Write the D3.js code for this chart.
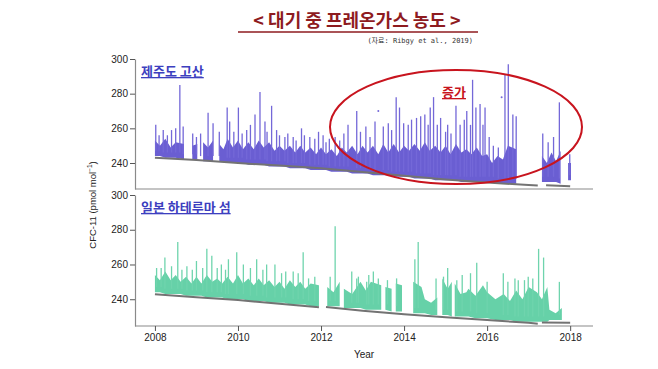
<!DOCTYPE html>
<html>
<head>
<meta charset="utf-8">
<script src="https://cdn.jsdelivr.net/npm/d3@7"></script>
<style>
  html, body { margin: 0; padding: 0; background: #fff; }
  svg { display: block; }
</style>
</head>
<body>
<div id="chart"></div>
<script>
// ---- data ----
const yearTicks = [2008, 2010, 2012, 2014, 2016, 2018];
const valueTicks = [240, 260, 280, 300];

// Gosan (Jeju) dense band: [year, low, high], null = gap
const gosanBand = [
  [2008.00, 244, 253], [2008.12, 244, 250], [2008.25, 243, 254], [2008.38, 243, 249], [2008.50, 243, 252],
  [2008.70, 242, 251], [2008.72, null, null], [2008.90, 242, 250], [2009.02, 242, 251], [2009.04, null, null],
  [2009.16, 241, 252], [2009.28, 241, 249], [2009.40, 241, 253], [2009.45, null, null], [2009.55, 241, 251],
  [2009.65, 241, 248], [2009.75, 240, 254], [2009.88, 240, 249], [2010.00, 240, 253], [2010.12, 240, 248],
  [2010.25, 239, 252], [2010.38, 239, 248], [2010.50, 239, 253], [2010.62, 239, 249], [2010.75, 238, 252],
  [2010.88, 238, 247], [2011.00, 238, 250], [2011.12, 238, 247], [2011.25, 237, 250], [2011.38, 237, 246],
  [2011.50, 237, 250], [2011.62, 237, 246], [2011.75, 236, 249], [2011.88, 236, 245], [2012.00, 236, 249],
  [2012.12, 236, 245], [2012.25, 235, 248], [2012.38, 235, 244], [2012.50, 235, 249], [2012.62, 235, 246],
  [2012.75, 234, 250], [2012.88, 234, 245], [2013.00, 234, 250], [2013.12, 234, 246], [2013.25, 233, 250],
  [2013.38, 233, 245], [2013.50, 233, 251], [2013.62, 233, 246], [2013.75, 232, 251], [2013.88, 232, 246],
  [2014.00, 232, 250], [2014.12, 232, 247], [2014.25, 231, 251], [2014.38, 231, 247], [2014.50, 231, 252],
  [2014.62, 231, 247], [2014.75, 230, 250], [2014.88, 230, 246], [2015.00, 230, 250], [2015.12, 230, 245],
  [2015.25, 230, 251], [2015.38, 229, 246], [2015.50, 229, 248], [2015.62, 229, 245], [2015.75, 229, 249],
  [2015.88, 229, 244], [2016.00, 229, 245], [2016.12, 229, 240], [2016.25, 228, 244], [2016.38, 228, 242],
  [2016.50, 228, 250], [2016.70, 228, 248], [2016.72, null, null], [2017.32, 229, 244], [2017.44, 229, 240],
  [2017.55, 229, 246], [2017.66, 229, 241], [2017.77, 228, 247], [2017.79, null, null], [2017.95, 230, 240],
  [2018.02, 230, 240]
];

// Gosan spikes: [year, peak]
const gosanSpikes = [
  [2008.02, 262], [2008.10, 256], [2008.20, 259], [2008.30, 256], [2008.40, 259], [2008.50, 260], [2008.60, 285],
  [2008.68, 261], [2008.91, 257], [2009.00, 255], [2009.10, 257], [2009.28, 269], [2009.40, 263], [2009.55, 258],
  [2009.74, 272], [2009.80, 264], [2009.90, 258], [2010.01, 272], [2010.10, 257], [2010.21, 259], [2010.30, 262],
  [2010.41, 268], [2010.53, 281], [2010.65, 264], [2010.70, 258], [2010.81, 273], [2010.93, 259], [2011.00, 256],
  [2011.13, 255], [2011.20, 257], [2011.33, 255], [2011.40, 253], [2011.53, 260], [2011.60, 256], [2011.73, 255],
  [2011.85, 254], [2011.94, 258], [2012.05, 256], [2012.12, 252], [2012.20, 254], [2012.34, 255], [2012.45, 253],
  [2012.55, 257], [2012.65, 262], [2012.86, 270], [2012.95, 258], [2013.08, 261], [2013.18, 255], [2013.30, 264],
  [2013.50, 261], [2013.62, 263], [2013.70, 259], [2013.81, 278], [2013.89, 272], [2013.99, 263], [2014.10, 262],
  [2014.18, 265], [2014.30, 266], [2014.40, 267], [2014.50, 268], [2014.58, 262], [2014.63, 272], [2014.71, 278],
  [2014.80, 262], [2014.88, 266], [2015.00, 258], [2015.05, 262], [2015.13, 257], [2015.25, 273], [2015.35, 262],
  [2015.45, 265], [2015.51, 270], [2015.60, 262], [2015.65, 288], [2015.73, 272], [2015.83, 274], [2015.90, 262],
  [2015.95, 272], [2016.05, 255], [2016.15, 250], [2016.27, 249], [2016.43, 291], [2016.51, 297], [2016.62, 268],
  [2016.70, 267], [2017.34, 257], [2017.47, 252], [2017.60, 255], [2017.74, 275], [2017.99, 245]
];
// isolated dots above the band
const gosanDots = [[2013.38, 270], [2016.35, 278]];

// Gosan background (grey)
const gosanBase = [
  [2008.0, 243.1], [2009.0, 241.7], [2010.0, 240.0], [2011.0, 238.5], [2012.0, 237.0], [2013.0, 234.8],
  [2014.0, 232.6], [2015.0, 230.5], [2016.0, 228.7], [2017.0, 227.3], [2017.22, 227.0], [2017.3, null],
  [2017.42, 227.2], [2018.0, 226.6]
];

// Hateruma dense band
const haterumaBand = [
  [2008.00, 244, 254], [2008.12, 244, 251], [2008.25, 243, 256], [2008.38, 243, 251], [2008.50, 243, 254],
  [2008.62, 243, 250], [2008.75, 242, 253], [2008.88, 242, 249], [2009.00, 242, 253], [2009.12, 242, 249],
  [2009.25, 241, 254], [2009.38, 241, 250], [2009.50, 241, 252], [2009.62, 241, 249], [2009.75, 240, 253],
  [2009.88, 240, 249], [2010.00, 240, 254], [2010.12, 240, 249], [2010.25, 239, 252], [2010.38, 239, 248],
  [2010.50, 239, 252], [2010.62, 239, 248], [2010.75, 238, 251], [2010.88, 238, 247], [2011.00, 238, 250],
  [2011.12, 238, 246], [2011.25, 237, 251], [2011.38, 237, 247], [2011.50, 237, 250], [2011.62, 237, 246],
  [2011.75, 236, 249], [2011.95, 236, 248], [2011.97, null, null], [2012.15, 236, 247], [2012.30, 236, 244],
  [2012.45, 236, 250], [2012.47, null, null], [2012.55, 235, 246], [2012.75, 235, 243], [2012.95, 235, 250],
  [2013.08, 234, 245], [2013.20, 234, 250], [2013.45, 234, 248], [2013.47, null, null], [2013.55, 234, 247],
  [2013.70, 233, 246], [2013.72, null, null], [2013.80, 233, 249], [2013.95, 233, 248], [2013.97, null, null],
  [2014.22, 232, 250], [2014.42, 232, 247], [2014.50, 232, 240], [2014.65, 231, 238], [2014.80, 231, 241],
  [2014.82, null, null], [2014.92, 231, 252], [2015.05, 231, 246], [2015.15, 230, 250], [2015.17, null, null],
  [2015.22, 230, 249], [2015.36, 230, 243], [2015.50, 230, 244], [2015.55, 230, 246], [2015.72, 229, 242],
  [2015.90, 229, 248], [2016.00, 229, 244], [2016.20, 228, 240], [2016.40, 228, 243], [2016.55, 228, 239],
  [2016.70, 227, 245], [2016.85, 227, 240], [2017.00, 227, 247], [2017.20, 227, 244], [2017.32, 227, 240],
  [2017.45, 227, 247], [2017.50, 228, 234], [2017.65, 228, 232], [2017.80, 228, 235], [2017.82, null, null]
];

const haterumaSpikes = [
  [2008.04, 258], [2008.15, 258], [2008.24, 264], [2008.40, 259], [2008.55, 273], [2008.65, 257], [2008.77, 259],
  [2008.90, 257], [2009.00, 262], [2009.15, 258], [2009.25, 269], [2009.37, 265], [2009.50, 258], [2009.60, 260],
  [2009.70, 257], [2009.77, 263], [2009.97, 267], [2010.13, 260], [2010.30, 258], [2010.45, 263], [2010.60, 257],
  [2010.69, 260], [2010.89, 260], [2011.05, 255], [2011.15, 256], [2011.33, 256], [2011.45, 255], [2011.57, 267],
  [2011.70, 252], [2011.85, 253], [2012.22, 253], [2012.34, 282], [2012.74, 256], [2012.86, 252], [2012.90, 253],
  [2013.10, 250], [2013.15, 254], [2013.26, 256], [2013.38, 252], [2013.60, 251], [2013.82, 252], [2014.26, 263],
  [2014.34, 273], [2014.77, 252], [2014.95, 253], [2015.05, 258], [2015.27, 251], [2015.40, 254], [2015.60, 255],
  [2015.75, 261], [2016.00, 250], [2016.39, 255], [2016.50, 250], [2016.67, 252], [2016.75, 251], [2016.90, 251],
  [2016.99, 253], [2017.10, 252], [2017.24, 269], [2017.36, 264], [2017.74, 250]
];

const haterumaBase = [
  [2008.0, 242.9], [2009.0, 241.2], [2010.0, 239.5], [2011.0, 237.4], [2011.95, 235.4], [2012.0, null],
  [2012.12, 235.6], [2013.0, 233.4], [2014.0, 231.4], [2015.0, 229.7], [2016.0, 228.0], [2017.0, 226.5],
  [2017.22, 225.9], [2017.27, null], [2017.32, 226.6], [2018.0, 226.4]
];

// ---- drawing ----
const width = 658, height = 369;
const font = "'Liberation Sans', Arial, sans-serif";
const kfont = "'Noto Sans CJK KR', 'Noto Sans', sans-serif";

const svg = d3.select('#chart').append('svg')
  .attr('width', width)
  .attr('height', height)
  .attr('viewBox', [0, 0, width, height]);

const x = d3.scaleLinear().domain([2007.52, 2018.55]).range([135, 593]);

const panels = [
  { name: '제주도 고산', band: gosanBand, spikes: gosanSpikes, dots: gosanDots, base: gosanBase,
    color: '#6a5ed2', spikeColor: '#7468d8', top: 59, bottom: 189, yMin: 225 },
  { name: '일본 하테루마 섬', band: haterumaBand, spikes: haterumaSpikes, dots: [], base: haterumaBase,
    color: '#66d1a8', spikeColor: '#6fd4ad', top: 195, bottom: 326, yMin: 224.6 }
];

panels.forEach(p => {
  const y = d3.scaleLinear().domain([p.yMin, 300]).range([p.bottom, p.top]);
  const g = svg.append('g');

  // dense band
  const area = d3.area()
    .defined(d => d[1] !== null)
    .x(d => x(d[0]))
    .y0(d => y(d[1]))
    .y1(d => y(d[2]));
  g.append('path')
    .attr('d', area(p.band))
    .attr('fill', p.color);

  // lower edge of band for each spike
  const valid = p.band.filter(d => d[1] !== null);
  const lowAt = yr => d3.least(valid, d => Math.abs(d[0] - yr))[1];

  g.append('g')
    .selectAll('line')
    .data(p.spikes)
    .join('line')
    .attr('x1', d => x(d[0]))
    .attr('x2', d => x(d[0]))
    .attr('y1', d => y(lowAt(d[0]) + 3))
    .attr('y2', d => y(d[1]))
    .attr('stroke', p.spikeColor)
    .attr('stroke-width', 1.3);

  g.append('g')
    .selectAll('circle')
    .data(p.dots)
    .join('circle')
    .attr('cx', d => x(d[0]))
    .attr('cy', d => y(d[1]))
    .attr('r', 1)
    .attr('fill', p.spikeColor);

  // grey background line
  g.append('path')
    .attr('d', d3.line()
      .defined(d => d[1] !== null)
      .x(d => x(d[0]))
      .y(d => y(d[1]))(p.base))
    .attr('fill', 'none')
    .attr('stroke', '#737373')
    .attr('stroke-width', 2);

  // y axis
  g.append('g')
    .attr('transform', `translate(135,0)`)
    .call(d3.axisLeft(y).tickValues(valueTicks).tickSize(5).tickPadding(2).tickSizeOuter(0))
    .call(a => a.select('.domain').attr('stroke', '#8a8a8a').attr('stroke-width', 1.2))
    .call(a => a.selectAll('.tick line').attr('stroke', '#555'))
    .call(a => a.selectAll('.tick text')
      .attr('fill', '#222')
      .style('font-family', font)
      .style('font-size', '10px'));

  // bottom line of panel
  g.append('line')
    .attr('x1', 135).attr('x2', 593)
    .attr('y1', p.bottom).attr('y2', p.bottom)
    .attr('stroke', '#8a8a8a')
    .attr('stroke-width', 1.2);

  // station label
  g.append('text')
    .attr('x', 141)
    .attr('y', p.top + 17)
    .attr('fill', '#3d3fbf')
    .style('font-family', kfont)
    .style('font-size', '13px')
    .style('font-weight', 'bold')
    .attr('text-decoration', 'underline')
    .text(p.name);
});

// x axis
svg.append('g')
  .attr('transform', 'translate(0,326)')
  .call(d3.axisBottom(x).tickValues(yearTicks).tickFormat(d3.format('d')).tickSize(5).tickPadding(3).tickSizeOuter(0))
  .call(a => a.select('.domain').remove())
  .call(a => a.selectAll('.tick line').attr('stroke', '#555'))
  .call(a => a.selectAll('.tick text')
    .attr('fill', '#222')
    .style('font-family', font)
    .style('font-size', '10px'));

svg.append('text')
  .attr('x', 364)
  .attr('y', 358)
  .attr('text-anchor', 'middle')
  .attr('fill', '#222')
  .style('font-family', font)
  .style('font-size', '10px')
  .text('Year');

// y label
const yl = svg.append('text')
  .attr('transform', 'translate(96,205) rotate(-90)')
  .attr('text-anchor', 'middle')
  .attr('fill', '#222')
  .style('font-family', font)
  .style('font-size', '9.5px');
yl.append('tspan').text('CFC-11 (pmol mol');
yl.append('tspan').attr('dy', -4).style('font-size', '6.5px').text('−1');
yl.append('tspan').attr('dy', 4).text(')');

// title
svg.append('text')
  .attr('x', 357)
  .attr('y', 27)
  .attr('text-anchor', 'middle')
  .attr('fill', '#8e1b1f')
  .style('font-family', kfont)
  .style('font-size', '18px')
  .style('font-weight', 'bold')
  .text('< 대기 중 프레온가스 농도 >');
svg.append('line')
  .attr('x1', 238).attr('x2', 478)
  .attr('y1', 32).attr('y2', 32)
  .attr('stroke', '#8e1b1f')
  .attr('stroke-width', 1.5);
svg.append('text')
  .attr('x', 473)
  .attr('y', 43)
  .attr('text-anchor', 'end')
  .attr('fill', '#333')
  .style('font-family', "'DejaVu Sans Mono', 'Noto Sans CJK KR', monospace")
  .style('font-size', '7px')
  .text('(자료: Ribgy et al., 2019)');

// highlight ellipse
svg.append('ellipse')
  .attr('cx', 456)
  .attr('cy', 127)
  .attr('rx', 126)
  .attr('ry', 57)
  .attr('fill', 'none')
  .attr('stroke', '#c8141e')
  .attr('stroke-width', 2);
svg.append('text')
  .attr('x', 454)
  .attr('y', 97)
  .attr('text-anchor', 'middle')
  .attr('fill', '#c8141e')
  .attr('text-decoration', 'underline')
  .style('font-family', kfont)
  .style('font-size', '13px')
  .style('font-weight', 'bold')
  .text('증가');
</script>
</body>
</html>
